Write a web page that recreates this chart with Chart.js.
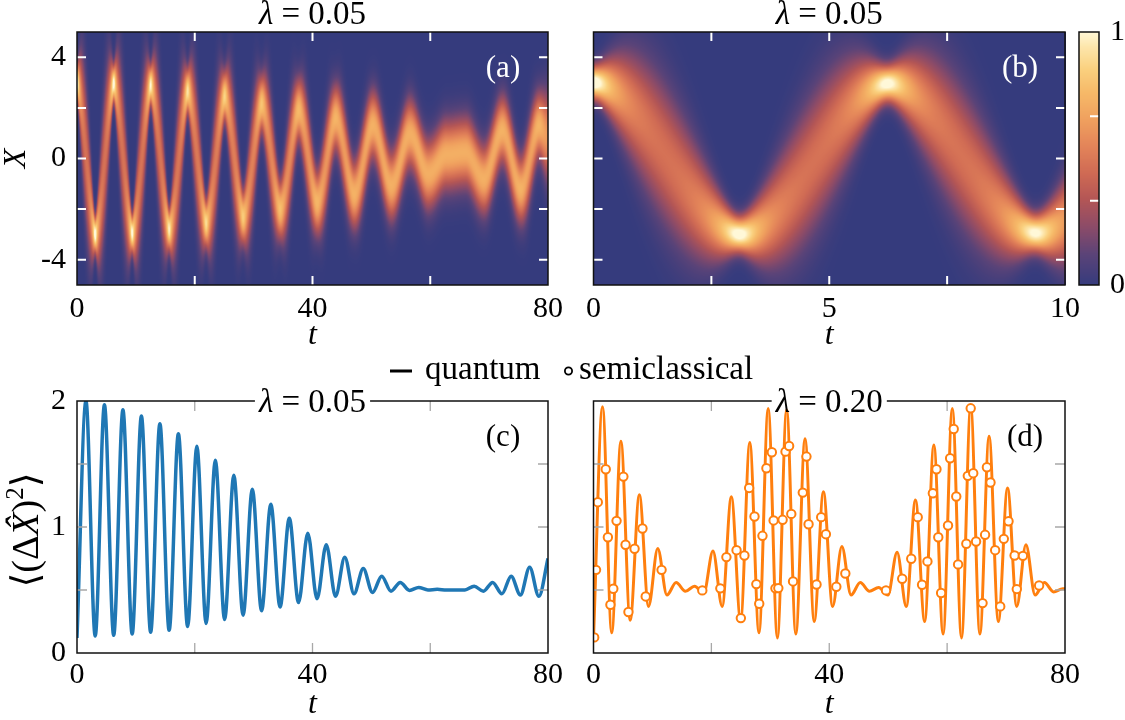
<!DOCTYPE html>
<html>
<head>
<meta charset="utf-8">
<title>Packet dynamics</title>
<script src="https://cdn.jsdelivr.net/npm/chart.js@4.4.1/dist/chart.umd.min.js"></script>
<style>
  body { margin: 0; background: #fff; }
  .wrap { position: relative; width: 1125px; height: 720px; }
  canvas { position: absolute; left: 0; top: 0; }
</style>
</head>
<body>
<div class="wrap">
  <canvas id="panelA" width="1125" height="720"></canvas>
  <canvas id="panelB" width="1125" height="720"></canvas>
  <canvas id="colorBar" width="1125" height="720"></canvas>
  <canvas id="panelC" width="1125" height="720"></canvas>
  <canvas id="panelD" width="1125" height="720"></canvas>
</div>
<script>
/* global Chart:false */

const FONT = "'Liberation Serif', 'DejaVu Serif', serif";

// (a), (b): turning points of the packet centre
const turnT = [0, 3.14, 6.28, 9.42, 12.57, 15.71, 18.85, 21.99, 25.13, 28.27, 31.42, 34.56, 37.7, 40.84,
  43.98, 47.12, 50.27, 53.41, 56.55, 59.69, 62.83, 65.97, 69.12, 72.26, 75.4, 78.54, 80];
const turnX = [3.0, -3.0, 2.96, -2.95, 2.9, -2.8, 2.66, -2.55, 2.45, -2.3, 2.15, -2.0, 1.9, -1.72,
  1.58, -1.4, 1.3, -1.05, 0.95, -0.6, 0.15, 0.25, -0.8, 1.1, -1.2, 1.3, 0.9];

// (c): variance, lambda = 0.05 (extrema of the curve)
const varT = [0, 1.52, 3.09, 4.66, 6.23, 7.8, 9.37, 10.94, 12.51, 14.08, 15.65, 17.22, 18.79, 20.36,
  21.93, 23.5, 25.07, 26.64, 28.21, 29.78, 31.35, 32.92, 34.49, 36.06, 37.63, 39.2, 40.77, 42.34,
  43.91, 45.48, 47.05, 48.62, 50.19, 51.76, 53.33, 54.9, 56.47, 58.04, 59.61, 61.18, 62.75, 64.32,
  65.89, 67.46, 69.03, 70.6, 72.17, 73.74, 75.31, 76.88, 78.45, 80];
const varC = [0.12, 2.0, 0.135, 1.97, 0.14, 1.93, 0.15, 1.88, 0.165, 1.82, 0.18, 1.74, 0.21, 1.64,
  0.235, 1.53, 0.265, 1.41, 0.3, 1.3, 0.335, 1.18, 0.365, 1.07, 0.4, 0.95, 0.43, 0.86,
  0.45, 0.76, 0.47, 0.67, 0.48, 0.61, 0.49, 0.56, 0.497, 0.52, 0.5, 0.505, 0.5, 0.5,
  0.5, 0.53, 0.49, 0.56, 0.47, 0.61, 0.46, 0.68, 0.45, 0.75];

// (d): variance, lambda = 0.20, quantum curve and semiclassical points
const varTd = [0, 1.53, 3.09, 4.65, 6.22, 7.78, 9.34, 10.9, 12.46, 14.02, 15.59, 17.15, 18.71, 20.27,
  21.83, 23.39, 24.96, 26.52, 28.08, 29.64, 31.2, 32.77, 34.33, 35.89, 37.45, 39.01, 40.57, 42.14,
  43.7, 45.26, 46.82, 48.38, 49.95, 51.51, 53.07, 54.63, 56.19, 57.75, 59.32, 60.88, 62.44, 64.0,
  65.56, 67.12, 68.69, 70.25, 71.81, 73.37, 74.93, 76.5, 78.06, 79.62, 80];
const varD = [0.12, 1.955, 0.16, 1.68, 0.26, 1.255, 0.37, 0.83, 0.46, 0.56, 0.49, 0.53, 0.475, 0.81,
  0.37, 1.24, 0.26, 1.67, 0.16, 1.94, 0.12, 1.93, 0.15, 1.7, 0.25, 1.28, 0.37, 0.845,
  0.46, 0.56, 0.49, 0.52, 0.46, 0.8, 0.37, 1.215, 0.25, 1.65, 0.15, 1.94, 0.12, 1.955,
  0.15, 1.72, 0.25, 1.31, 0.37, 0.86, 0.46, 0.56, 0.485, 0.51, 0.51];
const semiT = [0.12, 0.43, 0.73, 2.08, 2.44, 2.87, 3.36, 3.91, 5.07, 5.44, 5.93, 6.97, 8.31, 8.86,
  11.55, 18.46, 21.52, 22.55, 24.27, 25.0, 25.61, 26.41, 27.32, 27.63, 28.12, 28.67, 29.34, 30.26,
  30.56, 30.87, 31.36, 32.09, 32.58, 33.19, 33.56, 33.86, 35.51, 36.13, 36.49, 37.84, 38.63, 39.43,
  41.2, 42.73, 49.63, 52.38, 53.91, 55.01, 55.75, 56.66, 57.58, 58.19, 58.5, 58.98, 60.15, 60.51,
  61.12, 61.55, 61.86, 63.26, 63.51, 64.0, 64.43, 64.91, 66.01, 66.44, 66.75, 67.36, 68.15, 69.01,
  69.62, 70.42, 71.45, 71.82, 72.86, 75.61];
const semiV = [0.124, 0.66, 1.197, 1.458, 0.919, 0.383, 0.51, 1.049, 1.4, 0.859, 0.325, 0.827, 0.988, 0.449,
  0.66, 0.497, 0.513, 0.761, 0.816, 0.277, 0.774, 1.31, 1.083, 0.547, 0.391, 0.93, 1.466, 1.593,
  1.052, 0.513, 0.515, 1.057, 1.598, 1.643, 1.104, 0.568, 1.273, 1.559, 1.022, 0.544, 1.078, 0.943,
  0.526, 0.631, 0.497, 0.589, 0.748, 1.078, 0.542, 0.727, 1.268, 1.458, 0.919, 0.476, 1.012, 1.546,
  1.778, 1.242, 0.703, 0.867, 1.406, 1.942, 1.427, 0.885, 0.396, 0.938, 1.474, 1.353, 0.816, 0.37,
  0.906, 1.046, 0.774, 0.507, 0.771, 0.536];

const tTicksLong = [0, 20, 40, 60, 80];
const tLabelsLong = [0, 40, 80];
const tTicksShort = [0, 2.5, 5, 7.5, 10];
const tLabelsShort = [0, 5, 10];
const xTicks = [-4, -2, 0, 2, 4];
const xLabels = [-4, 0, 4];
const vTicks = [0, 0.5, 1, 1.5, 2];
const vLabels = [0, 1, 2];
const cbTicks = [0, 1 / 3, 2 / 3, 1];
const cbLabels = [0, 1];

// colour map
const cmapPos = [0, 0.12, 0.23, 0.34, 0.44, 0.55, 0.65, 0.76, 0.85, 0.94, 1];
const cmapCol = ["#353b7d", "#5a4378", "#8c4b68", "#b45655", "#cf6a54", "#e38459", "#ef9f5e",
  "#f6b968", "#fad07e", "#fde6ab", "#fff8d8"];

function hexRgb(h) {
  return [parseInt(h.substr(1, 2), 16), parseInt(h.substr(3, 2), 16), parseInt(h.substr(5, 2), 16)];
}

var lut = [];
(function () {
  var rgb = cmapCol.map(hexRgb);
  for (var i = 0; i < 256; i++) {
    var p = i / 255, k = 0;
    while (k < cmapPos.length - 2 && p > cmapPos[k + 1]) k++;
    var s = (p - cmapPos[k]) / (cmapPos[k + 1] - cmapPos[k]);
    lut.push([0, 1, 2].map(function (c) { return Math.round(rgb[k][c] + (rgb[k + 1][c] - rgb[k][c]) * s); }));
  }
})();

function colorFor(p) {
  return lut[Math.max(0, Math.min(255, Math.round(p * 255)))];
}

// smooth blend between neighbouring read-off extrema
function blend(ts, vs, t) {
  var i = 0;
  while (i < ts.length - 2 && t > ts[i + 1]) i++;
  var s = Math.min(1, Math.max(0, (t - ts[i]) / (ts[i + 1] - ts[i])));
  return vs[i] + (vs[i + 1] - vs[i]) * (1 - Math.cos(Math.PI * s)) / 2;
}

var vMin = Math.min.apply(null, varC);
function density(t, X) {
  var c = blend(turnT, turnX, t);
  var v = blend(varT, varC, t);
  return Math.sqrt(vMin / v) * Math.exp(-((X - c) * (X - c)) / (2 * v));
}

function drawHeat(chart) {
  var a = chart.chartArea, x = chart.scales.x, y = chart.scales.y;
  var w = Math.round(a.right - a.left), h = Math.round(a.bottom - a.top);
  var off = document.createElement("canvas");
  off.width = w;
  off.height = h;
  var octx = off.getContext("2d");
  var img = octx.createImageData(w, h);
  for (var i = 0; i < w; i++) {
    var t = x.getValueForPixel(a.left + i + 0.5);
    for (var j = 0; j < h; j++) {
      var X = y.getValueForPixel(a.top + j + 0.5);
      var col = colorFor(1.1 * Math.pow(density(t, X), 0.6));
      var k = 4 * (j * w + i);
      img.data[k] = col[0];
      img.data[k + 1] = col[1];
      img.data[k + 2] = col[2];
      img.data[k + 3] = 255;
    }
  }
  octx.putImageData(img, 0, 0);
  chart.ctx.drawImage(off, a.left, a.top);
}

function drawBar(chart) {
  var a = chart.chartArea, y = chart.scales.y, ctx = chart.ctx;
  for (var py = Math.floor(a.top); py < a.bottom; py++) {
    var col = colorFor(y.getValueForPixel(py + 0.5));
    ctx.fillStyle = "rgb(" + col.join(",") + ")";
    ctx.fillRect(a.left, py, a.right - a.left, 1);
  }
}

function innerTicks(chart, o) {
  var ctx = chart.ctx, a = chart.chartArea;
  ctx.strokeStyle = o.tickColor;
  ctx.lineWidth = o.tickWidth;
  ctx.beginPath();
  if (o.xTicks) {
    chart.scales.x.ticks.forEach(function (tk) {
      var px = chart.scales.x.getPixelForValue(tk.value);
      if (px < a.left + 2 || px > a.right - 2) return;
      ctx.moveTo(px, a.top); ctx.lineTo(px, a.top + o.tickLen);
      ctx.moveTo(px, a.bottom); ctx.lineTo(px, a.bottom - o.tickLen);
    });
  }
  chart.scales.y.ticks.forEach(function (tk) {
    var py = chart.scales.y.getPixelForValue(tk.value);
    if (py < a.top + 2 || py > a.bottom - 2) return;
    if (o.xTicks) { ctx.moveTo(a.left, py); ctx.lineTo(a.left + o.tickLen, py); }
    ctx.moveTo(a.right, py); ctx.lineTo(a.right - o.tickLen, py);
  });
  ctx.stroke();
}

// text made of pieces in different fonts (upright / italic)
function richText(ctx, parts, x, y) {
  var total = 0;
  parts.forEach(function (p) { ctx.font = p.font; total += ctx.measureText(p.text).width; });
  var cx = x - total / 2;
  ctx.textAlign = "left";
  ctx.textBaseline = "alphabetic";
  parts.forEach(function (p) {
    ctx.font = p.font;
    ctx.fillText(p.text, cx, y - (p.dy || 0));
    cx += ctx.measureText(p.text).width;
  });
  return total;
}

function lambdaParts(val) {
  return [
    { text: "\u03bb", font: "italic 33px " + FONT },
    { text: " = " + val, font: "33px " + FONT },
  ];
}

function decor(o) {
  return {
    id: "decor",
    beforeDatasetsDraw: function (chart) {
      if (o.heat) drawHeat(chart);
      if (o.bar) drawBar(chart);
    },
    afterDraw: function (chart) {
      var ctx = chart.ctx, a = chart.chartArea;
      ctx.save();
      innerTicks(chart, o);
      ctx.strokeStyle = "#111";
      ctx.lineWidth = 1.5;
      ctx.strokeRect(a.left, a.top, a.right - a.left, a.bottom - a.top);
      var cx = (a.left + a.right) / 2;
      if (o.title && o.boxedTitle) {
        var parts = lambdaParts(o.title);
        var w = 0;
        parts.forEach(function (p) { ctx.font = p.font; w += ctx.measureText(p.text).width; });
        ctx.fillStyle = "#fff";
        ctx.fillRect(cx - w / 2 - 4, a.top - 2, w + 8, 4);
        ctx.fillStyle = "#000";
        richText(ctx, parts, cx, a.top + 11);
      } else if (o.title) {
        ctx.fillStyle = "#000";
        richText(ctx, lambdaParts(o.title), cx, a.top - 8);
      }
      if (o.tag) {
        ctx.fillStyle = o.tagColor;
        ctx.font = "31px " + FONT;
        ctx.textAlign = "center";
        ctx.textBaseline = "middle";
        ctx.fillText(o.tag, a.right - o.tagDx, a.top + 37);
      }
      if (o.extra) o.extra(chart);
      ctx.restore();
    },
  };
}

function linAxis(min, max, ticks, labels, pad, more) {
  var ax = {
    type: "linear",
    min: min,
    max: max,
    grid: { display: false, drawTicks: false },
    border: { display: false },
    afterBuildTicks: function (s) {
      s.ticks = ticks.map(function (v) { return { value: v }; });
    },
    ticks: {
      autoSkip: false,
      maxRotation: 0,
      padding: pad,
      color: "#000",
      font: { family: FONT, size: 30, lineHeight: 1 },
      callback: function (v) { return labels.indexOf(v) >= 0 ? String(v) : ""; },
    },
  };
  return Object.assign(ax, more || {});
}

function tTitle(bottomPad) {
  return {
    display: true,
    text: "t",
    color: "#000",
    font: { family: FONT, size: 32, style: "italic", lineHeight: 0.9 },
    padding: { top: 0, bottom: bottomPad },
  };
}

var base = {
  responsive: false,
  animation: false,
  events: [],
  plugins: { legend: { display: false }, tooltip: { enabled: false } },
};

function opts(padding, scales) {
  return Object.assign({}, base, { layout: { padding: padding }, scales: scales });
}

// (a)
new Chart(document.getElementById("panelA"), {
  type: "scatter",
  data: { datasets: [] },
  options: opts({ left: 0, right: 577, top: 32, bottom: 365 }, {
    x: linAxis(0, 80, tTicksLong, tLabelsLong, 9, {
      afterFit: function (s) { s.height = 70; },
      title: tTitle(5),
    }),
    y: linAxis(-5, 5, xTicks, xLabels, 11, {
      afterFit: function (s) { s.width = 77; },
      title: {
        display: true, text: "X", color: "#000",
        font: { family: FONT, size: 32, style: "italic", lineHeight: 1 },
        padding: { top: 1, bottom: 0 },
      },
    }),
  }),
  plugins: [decor({ heat: true, xTicks: true, tickColor: "#fff", tickWidth: 2, tickLen: 9,
    title: "0.05", tag: "(a)", tagColor: "#fff", tagDx: 45 })],
});

// (b)
new Chart(document.getElementById("panelB"), {
  type: "scatter",
  data: { datasets: [] },
  options: opts({ left: 593.5, right: 60, top: 32, bottom: 365 }, {
    x: linAxis(0, 10, tTicksShort, tLabelsShort, 9, {
      afterFit: function (s) { s.height = 70; },
      title: tTitle(5),
    }),
    y: linAxis(-5, 5, xTicks, xLabels, 11, { display: false }),
  }),
  plugins: [decor({ heat: true, xTicks: true, tickColor: "#fff", tickWidth: 2, tickLen: 9,
    title: "0.05", tag: "(b)", tagColor: "#fff", tagDx: 45 })],
});

// colour bar
new Chart(document.getElementById("colorBar"), {
  type: "scatter",
  data: { datasets: [] },
  options: opts({ left: 1079, right: 0, top: 32, bottom: 435 }, {
    x: { type: "linear", display: false, min: 0, max: 1 },
    y: linAxis(0, 1, cbTicks, cbLabels, 11, {
      position: "right",
      afterFit: function (s) { s.width = 26; },
    }),
  }),
  plugins: [decor({ bar: true, xTicks: false, tickColor: "#fff", tickWidth: 2, tickLen: 9 })],
});

// (c)
function legendAndYTitle(chart) {
  var ctx = chart.ctx;
  ctx.fillStyle = "#000";
  ctx.strokeStyle = "#000";
  ctx.lineWidth = 3;
  ctx.beginPath();
  ctx.moveTo(390, 371);
  ctx.lineTo(412, 371);
  ctx.stroke();
  ctx.font = "33px " + FONT;
  ctx.textAlign = "left";
  ctx.textBaseline = "alphabetic";
  ctx.fillText("quantum", 425, 379);
  ctx.lineWidth = 1.8;
  ctx.beginPath();
  ctx.arc(568.5, 371, 3.6, 0, Math.PI * 2);
  ctx.stroke();
  ctx.fillText("semiclassical", 579, 379);

  ctx.save();
  ctx.translate(26, (chart.chartArea.top + chart.chartArea.bottom) / 2 + 3);
  ctx.rotate(-Math.PI / 2);
  richText(ctx, [
    { text: "\u27e8(\u0394", font: "38px " + FONT },
    { text: "X\u0302", font: "italic 38px " + FONT },
    { text: ")", font: "38px " + FONT },
    { text: "2", font: "25px " + FONT, dy: 15 },
    { text: "\u27e9", font: "38px " + FONT },
  ], 0, 12);
  ctx.restore();
}

new Chart(document.getElementById("panelC"), {
  type: "line",
  data: {
    datasets: [{
      label: "quantum",
      data: varT.map(function (t, i) { return { x: t, y: varC[i] }; }),
      borderColor: "#1f77b4",
      borderWidth: 3.5,
      pointRadius: 0,
      cubicInterpolationMode: "monotone",
    }],
  },
  options: opts({ left: 0, right: 577, top: 401, bottom: 1 }, {
    x: linAxis(0, 80, tTicksLong, tLabelsLong, 7, {
      afterFit: function (s) { s.height = 66; },
      title: tTitle(0),
    }),
    y: linAxis(0, 2, vTicks, vLabels, 11, {
      afterFit: function (s) { s.width = 77; },
    }),
  }),
  plugins: [decor({ xTicks: true, tickColor: "#a8a8a8", tickWidth: 1.3, tickLen: 10,
    title: "0.05", boxedTitle: true, tag: "(c)", tagColor: "#000", tagDx: 45, extra: legendAndYTitle })],
});

// (d)
new Chart(document.getElementById("panelD"), {
  type: "line",
  data: {
    datasets: [{
      label: "semiclassical",
      data: semiT.map(function (t, i) { return { x: t, y: semiV[i] }; }),
      showLine: false,
      pointRadius: 4.2,
      pointBackgroundColor: "#fff",
      pointBorderColor: "#ff7f0e",
      pointBorderWidth: 2,
    }, {
      label: "quantum",
      data: varTd.map(function (t, i) { return { x: t, y: varD[i] }; }),
      borderColor: "#ff7f0e",
      borderWidth: 3,
      pointRadius: 0,
      cubicInterpolationMode: "monotone",
    }],
  },
  options: opts({ left: 593.5, right: 60, top: 401, bottom: 1 }, {
    x: linAxis(0, 80, tTicksLong, tLabelsLong, 7, {
      afterFit: function (s) { s.height = 66; },
      title: tTitle(0),
    }),
    y: linAxis(0, 2, vTicks, vLabels, 11, { display: false }),
  }),
  plugins: [decor({ xTicks: true, tickColor: "#a8a8a8", tickWidth: 1.3, tickLen: 10,
    title: "0.20", boxedTitle: true, tag: "(d)", tagColor: "#000", tagDx: 40 })],
});
</script>
</body>
</html>
